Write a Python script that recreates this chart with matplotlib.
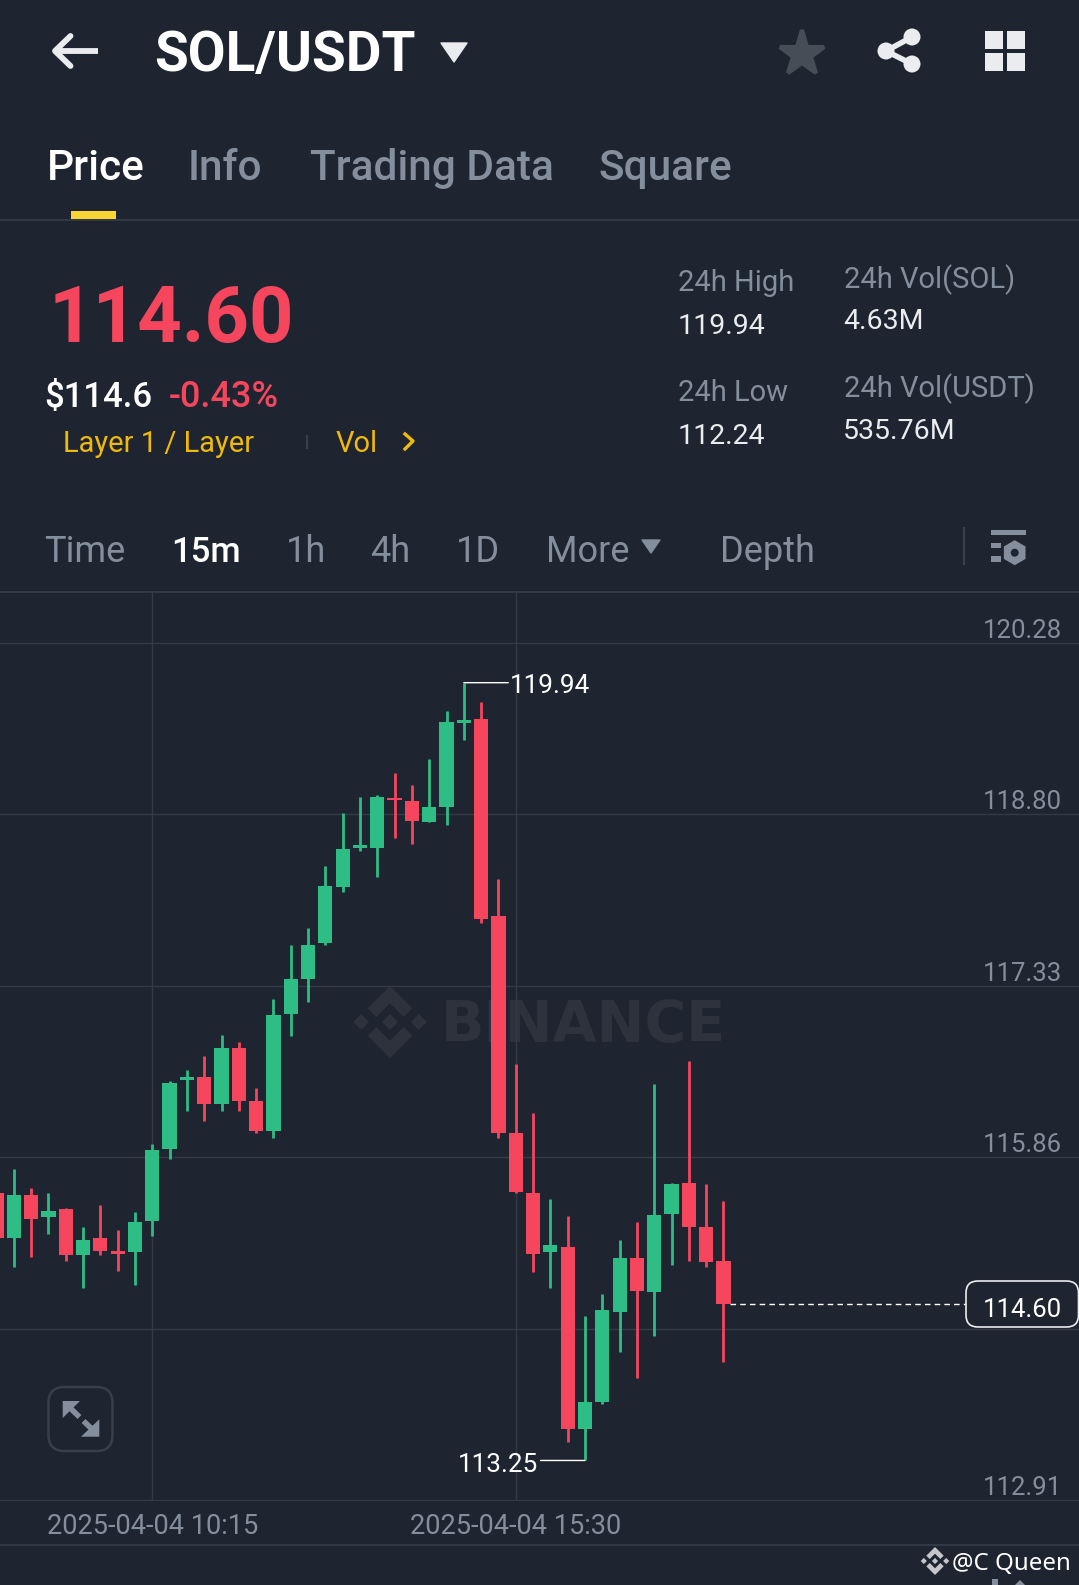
import numpy as np
import matplotlib
matplotlib.use('Agg')
import matplotlib.pyplot as plt
from matplotlib.patches import FancyBboxPatch, Polygon, Rectangle, Circle, RegularPolygon

plt.rcParams['font.family'] = ['Roboto', 'DejaVu Sans']

# 15m candles, left to right
opens = [115.55, 115.16, 115.53, 115.34, 115.41, 115.02, 115.16, 115.05, 115.04, 115.31, 115.93,
         116.52, 116.55, 116.32, 116.80, 116.34, 116.08, 117.09, 117.39, 117.70, 118.18, 118.52,
         118.52, 118.95, 118.92, 118.74, 118.87, 119.59, 119.63, 117.93, 116.07, 115.55, 115.04,
         115.09, 113.52, 113.75, 114.53, 114.99, 114.70, 115.37, 115.64, 115.26, 114.97]
closes = [115.16, 115.53, 115.33, 115.40, 115.02, 115.15, 115.05, 115.03, 115.30, 115.92, 116.50,
          116.55, 116.32, 116.80, 116.34, 116.08, 117.08, 117.39, 117.68, 118.19, 118.51, 118.54,
          118.96, 118.93, 118.75, 118.87, 119.60, 119.62, 117.91, 116.07, 115.56, 115.03, 115.10,
          113.52, 113.75, 114.54, 114.99, 114.71, 115.36, 115.63, 115.26, 114.96, 114.60]
highs = [115.55, 115.76, 115.59, 115.55, 115.42, 115.26, 115.45, 115.23, 115.39, 115.97, 116.51,
         116.61, 116.73, 116.91, 116.85, 116.45, 117.22, 117.68, 117.83, 118.36, 118.82, 118.96,
         118.97, 119.16, 119.06, 119.28, 119.70, 119.94, 119.77, 118.25, 116.66, 116.24, 115.50,
         115.35, 114.49, 114.68, 115.15, 115.30, 116.49, 115.64, 116.69, 115.63, 115.48]
lows = [115.16, 114.91, 115.00, 115.20, 114.97, 114.73, 115.02, 114.88, 114.76, 115.18, 115.84,
        116.26, 116.17, 116.26, 116.26, 116.07, 116.02, 116.90, 117.19, 117.68, 118.14, 118.49,
        118.27, 118.60, 118.55, 118.74, 118.72, 119.45, 117.87, 116.02, 115.55, 114.87, 114.73,
        113.41, 113.25, 113.74, 114.18, 113.96, 114.32, 114.93, 114.97, 114.91, 114.10]

# the label of the 114.39 line sits behind the last price badge, so it stays empty
y_ticks = [120.28, 118.81, 117.33, 115.86, 114.385, 112.91]
y_labels = ['120.28', '118.80', '117.33', '115.86', '', '112.91']
x_ticks = [9, 30]
x_labels = ['2025-04-04 10:15', '2025-04-04 15:30']

last_price = '114.60'
high_label = '119.94'
low_label = '113.25'

tabs = ['Price', 'Info', 'Trading Data', 'Square']
intervals = ['Time', '15m', '1h', '4h', '1D', 'More', 'Depth']

BG = '#1e2530'
GRID = '#343a45'
GREY = '#848e9c'
WHITE = '#eaecef'
GREEN = '#2ebd85'
RED = '#f6465d'
YELLOW = '#f0b90b'
W, H = 1079, 1585

fig = plt.figure(figsize=(W / 100, H / 100), dpi=100, facecolor=BG)


def pixel_axes(z):
    a = fig.add_axes([0, 0, 1, 1], zorder=z)
    a.set_xlim(0, W)
    a.set_ylim(H, 0)
    a.axis('off')
    a.patch.set_alpha(0)
    return a


def txt(a, x, y, s, size, color=GREY, weight='normal', ha='left', **kw):
    a.text(x, y, s, fontsize=size, color=color, fontweight=weight, ha=ha, va='baseline', **kw)


def binance_logo(a, cx, cy, r, color):
    top = np.array([(0, -1), (0.62, -0.38), (0.38, -0.14), (0, -0.52), (-0.38, -0.14), (-0.62, -0.38)])
    for sign in (1, -1):
        pts = top * [1, sign]
        a.add_patch(Polygon(np.c_[cx + pts[:, 0] * r, cy + pts[:, 1] * r], fc=color, ec='none'))
    for dx in (-0.8, 0, 0.8):
        a.add_patch(Polygon([(cx + (dx - 0.22) * r, cy), (cx + dx * r, cy - 0.22 * r),
                             (cx + (dx + 0.22) * r, cy), (cx + dx * r, cy + 0.22 * r)], fc=color, ec='none'))


# watermark goes under the candles
under = pixel_axes(0)
binance_logo(under, 390, 1022, 36, '#2d323c')
txt(under, 441, 1042, 'BINANCE', 41, '#2d323c', 'bold', family='DejaVu Sans')

# chart, x is candle number, y is price
ax = fig.add_axes([0, (H - 1500) / H, 1, (1500 - 592) / H], zorder=1)
ax.patch.set_alpha(0)
ax.set_xlim(0.203, 62.54)
ax.set_ylim(112.91, 120.72)

idx = np.arange(len(opens))
o = np.array(opens)
c = np.array(closes)
colors = [GREEN if c[i] >= o[i] else RED for i in idx]
ax.vlines(idx, lows, highs, colors=colors, lw=2, zorder=3)
ax.bar(idx, np.abs(c - o), bottom=np.minimum(o, c), width=0.82, color=colors, zorder=3)

ax.set_yticks(y_ticks, y_labels)
ax.set_xticks(x_ticks, x_labels)
ax.yaxis.tick_right()
ax.tick_params(axis='y', length=0, pad=-69, labelsize=18.5, labelcolor=GREY)
ax.tick_params(axis='x', length=0, pad=9, labelsize=19.5, labelcolor=GREY)
for lab in ax.get_yticklabels():
    lab.set_verticalalignment('bottom')
ax.grid(True, color=GRID, lw=1)
ax.set_axisbelow(True)
for name, sp in ax.spines.items():
    sp.set_visible(name == 'bottom')
    sp.set_color(GRID)

# high and low callouts, dashed last price line
line_style = dict(arrowstyle='-', color='white', lw=1, shrinkA=0, shrinkB=0)
ax.annotate('', xy=(27, highs[27]), xytext=(32, 0), textcoords='offset points', arrowprops=line_style)
ax.annotate(high_label, xy=(27, highs[27]), xytext=(33.5, -2.5), textcoords='offset points', color='white',
            fontsize=18.8, va='center', ha='left')
ax.annotate('', xy=(34, lows[34]), xytext=(-32, 0), textcoords='offset points', arrowprops=line_style)
ax.annotate(low_label, xy=(34, lows[34]), xytext=(-34, -3.5), textcoords='offset points', color='white',
            fontsize=18.8, va='center', ha='right')
ax.hlines(closes[-1], 42.4, 56, colors='white', lw=1, linestyles=(0, (4, 3)), zorder=2)

# everything around the chart
ui = pixel_axes(2)
for y in (220, 592, 1545):
    ui.plot([0, W], [y, y], color=GRID, lw=1.4)

# header
ui.plot([56, 97.5], [51, 51], color=WHITE, lw=4.2, solid_capstyle='butt')
ui.plot([70.5, 55, 70.5], [36, 51, 66], color=WHITE, lw=4.2, solid_capstyle='round', solid_joinstyle='round')
txt(ui, 154, 71.5, 'SOL/USDT', 39.5, 'white', 'bold')
ui.add_patch(Polygon([(441, 43), (467, 43), (454, 62)], fc=WHITE, ec=WHITE, lw=1, joinstyle='round'))
ui.plot(802, 54, marker='*', ms=34, color='#474d57', mew=3, mec='#474d57')
ui.plot([912, 886, 912], [37, 51, 64], color=WHITE, lw=4)
for cx, cy, r in ((912, 37, 8.5), (912, 64, 8.5), (886, 51, 8.5)):
    ui.add_patch(Circle((cx, cy), r, fc=WHITE, ec='none'))
for x0 in (985, 1007):
    for y0 in (31, 53):
        ui.add_patch(Rectangle((x0, y0), 18, 18, fc=WHITE, ec='none'))

# tabs
for s, x in zip(tabs, (47, 188, 310, 598)):
    txt(ui, x, 180, s, 30.5, 'white' if s == 'Price' else GREY, 'medium')
ui.add_patch(Rectangle((71, 211), 45, 8, fc='#fcd535', ec='none'))

# price block
txt(ui, 49, 342, last_price, 56, RED, 'bold')
txt(ui, 44, 407, '$114.6', 25, 'white', 'medium')
txt(ui, 169, 407, '-0.43%', 26, RED, 'medium')
txt(ui, 63, 451.5, 'Layer 1 / Layer', 21, YELLOW)
ui.plot([307, 307], [436, 448], color='#3a404b', lw=1.5)
txt(ui, 336, 451.5, 'Vol', 21, YELLOW)
ui.plot([405, 413, 405], [434, 441, 449], color=YELLOW, lw=2.4)

# 24h stats
txt(ui, 678, 291, '24h High', 21)
txt(ui, 678, 334, '119.94', 20.5, WHITE)
txt(ui, 678, 401, '24h Low', 21)
txt(ui, 678, 444, '112.24', 20.5, WHITE)
txt(ui, 844, 288, '24h Vol(SOL)', 21)
txt(ui, 843, 329, '4.63M', 20.5, WHITE)
txt(ui, 844, 397, '24h Vol(USDT)', 21)
txt(ui, 843, 439, '535.76M', 20.5, WHITE)

# interval row
for s, x in zip(intervals, (44, 171, 286, 370, 456, 546, 720)):
    on = s == '15m'
    txt(ui, x, 561.5, s, 25 if on else 26, 'white' if on else GREY, 'medium' if on else 'normal')
ui.add_patch(Polygon([(642, 540), (660, 540), (651, 553)], fc=GREY, ec=GREY, lw=1, joinstyle='round'))
ui.plot([964, 964], [528, 564], color='#3a404b', lw=1.5)
ui.add_patch(Rectangle((991, 529.5), 35, 5.5, fc=GREY, ec='none'))
ui.add_patch(Rectangle((991, 542.5), 9.5, 5.5, fc=GREY, ec='none'))
ui.add_patch(Rectangle((991, 556), 9.5, 5.5, fc=GREY, ec='none'))
ui.add_patch(RegularPolygon((1014.7, 552.7), 6, radius=12.5, fc=GREY, ec='none'))
ui.add_patch(Circle((1014.7, 552.7), 4, fc=BG, ec='none'))

# last price badge over the axis
ui.add_patch(FancyBboxPatch((966, 1281), 112.5, 46, boxstyle='round,pad=0,rounding_size=12',
                            fc=BG, ec=WHITE, lw=1.2))
txt(ui, 983, 1317, last_price, 18.5, 'white')

# expand button
ui.add_patch(FancyBboxPatch((48.5, 1387), 64, 64, boxstyle='round,pad=0,rounding_size=16', fc=BG, ec='#383e4a', lw=1.8))
ui.add_patch(Polygon([(62.7, 1401), (80, 1401), (62.7, 1418)], fc=GREY, ec='none'))
ui.plot([68, 79.5], [1406, 1417], color=GREY, lw=4, solid_capstyle='butt')
ui.add_patch(Polygon([(99.3, 1436.7), (81, 1436.7), (99.3, 1419.3)], fc=GREY, ec='none'))
ui.plot([83.5, 94], [1421, 1431], color=GREY, lw=4, solid_capstyle='butt')

# screenshot stamp at the bottom
binance_logo(ui, 935, 1561, 14, '#c4c6cb')
txt(ui, 952, 1570, '@C Queen', 17.3, 'white', family='Noto Sans')
ui.add_patch(Rectangle((992, 1579), 6, 6, fc=GREY, ec='none'))
ui.add_patch(Polygon([(1015, 1585), (1020, 1580), (1025, 1585)], fc=GREY, ec='none'))

fig.savefig('out.png', dpi=100, facecolor=BG)
plt.close(fig)
